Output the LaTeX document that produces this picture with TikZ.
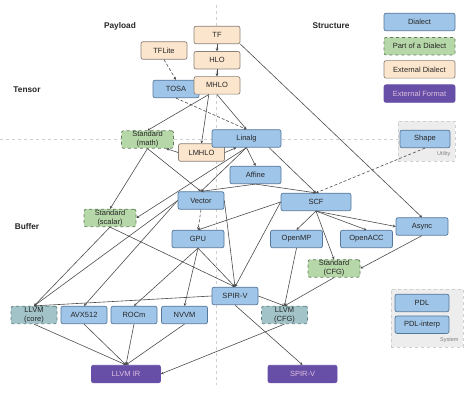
\documentclass[tikz,border=0pt]{standalone}
\usepackage{fontspec}
\setsansfont{Liberation Sans}
\usetikzlibrary{arrows.meta,positioning}
\definecolor{dialectfill}{HTML}{9FC5E8}
\definecolor{dialectline}{HTML}{56789A}
\definecolor{partfill}{HTML}{B6D7A8}
\definecolor{partline}{HTML}{5E7F57}
\definecolor{extfill}{HTML}{FCE5CD}
\definecolor{extline}{HTML}{8C8076}
\definecolor{formatfill}{HTML}{674EA7}
\definecolor{coolfill}{HTML}{A2C4C9}
\definecolor{coolline}{HTML}{5F7F80}
\definecolor{guideline}{HTML}{CFCFCF}
\begin{document}
\begin{tikzpicture}[
    x=1pt, y=-1pt,
    block/.style={draw, rounded corners=2pt, line width=0.7pt, inner sep=0pt,
        minimum width=#1, minimum height=17.5pt, align=center,
        font=\fontsize{7.5}{9}\selectfont\sffamily, text=black!85},
    block/.default=46pt,
    dialect/.style={block=#1, fill=dialectfill, draw=dialectline},
    dialect/.default=46pt,
    partdialect/.style={block=#1, fill=partfill, draw=partline, dashed},
    partdialect/.default=52pt,
    coolpart/.style={block=46pt, fill=coolfill, draw=coolline, dashed},
    external/.style={block=#1, fill=extfill, draw=extline},
    external/.default=46pt,
    format/.style={block=#1, fill=formatfill, draw=formatfill, text=violet!25!white},
    format/.default=69pt,
    arrow/.style={-{Stealth[length=2.8pt,width=2.8pt]}, line width=0.6pt, black!70},
    dasharrow/.style={arrow, densely dashed},
    guide/.style={dashed, line width=0.5pt, guideline},
    heading/.style={font=\fontsize{8.3}{10}\selectfont\sffamily\bfseries, text=black!85},
    groupbox/.style={draw=guideline, dashed, fill=black!7, line width=0.6pt},
    grouplabel/.style={font=\fontsize{5.5}{6}\selectfont\sffamily, text=black!50},
    node distance=7pt
]
\useasboundingbox (0,0) rectangle (474,403);

% guides and group boxes
\coordinate (guidetop) at (216.5,5);
\coordinate (guidebottom) at (216.5,385);
\coordinate (guideleft) at (0,139);
\coordinate (guideright) at (398,139);
\draw[guide] (guidetop) -- (guidebottom);
\draw[guide] (guideleft) -- (guideright);
\node[groupbox, minimum width=57pt, minimum height=40pt, inner sep=0pt] (utilitybox) at (426.5,141) {};
\node[groupbox, minimum width=72pt, minimum height=58pt, inner sep=0pt] (systembox) at (427,318) {};
\node[grouplabel, anchor=south east] (utilitylabel) at (454,160.5) {Utility};
\node[grouplabel, anchor=south east] (systemlabel) at (462,346.5) {System};

% headings
\node[heading] (payload) at (120,26) {Payload};
\node[heading] (structure) at (331,26) {Structure};
\node[heading] (tensor) at (27,90) {Tensor};
\node[heading] (buffer) at (27,227) {Buffer};

% legend
\node[dialect=71pt] (legdialect) at (419.5,22) {Dialect};
\node[partdialect=71pt, below=6pt of legdialect] (legpart) {Part of a Dialect};
\node[external=71pt, below=5pt of legpart] (legext) {External Dialect};
\node[format=71pt, below=6pt of legext] (legformat) {External Format};

% tensor level
\node[dialect] (tosa) at (176,89) {TOSA};
\node[external] (tf) at (217,35) {TF};
\node[external, below=of tf] (hlo) {HLO};
\node[external, below=of hlo] (mhlo) {MHLO};
\node[external] (tflite) at (164,50.5) {TFLite};

% middle
\node[partdialect] (stdmath) at (147.5,139.5) {Standard\\(math)};
\node[external] (lmhlo) at (201.5,152.5) {LMHLO};
\node[dialect=69pt] (linalg) at (246.5,138.5) {Linalg};
\node[dialect=51pt] (affine) at (255.5,175) {Affine};
\node[dialect=50pt] (shape) at (425,139) {Shape};

% buffer level
\node[dialect] (vector) at (201,200.5) {Vector};
\node[dialect=70pt] (scf) at (316,202) {SCF};
\node[partdialect] (stdscalar) at (110,218) {Standard\\(scalar)};
\node[dialect=52pt] (gpu) at (198,239) {GPU};
\node[dialect=52pt] (openmp) at (296.5,239) {OpenMP};
\node[dialect=52pt] (openacc) at (366.5,239) {OpenACC};
\node[dialect=52pt] (async) at (422,226.5) {Async};
\node[partdialect] (stdcfg) at (334,268.5) {Standard\\(CFG)};
\node[dialect] (spirv) at (235,296) {SPIR-V};
\node[coolpart] (llvmcore) at (34,315) {LLVM\\(core)};
\node[dialect] (avx) at (84,315) {AVX512};
\node[dialect] (rocm) at (134,315) {ROCm};
\node[dialect] (nvvm) at (184.5,315) {NVVM};
\node[coolpart] (llvmcfg) at (284.5,315) {LLVM\\(CFG)};
\node[dialect=54pt] (pdl) at (422,303) {PDL};
\node[dialect=54pt, below=3.5pt of pdl] (pdlinterp) {PDL-interp};

% external formats
\node[format] (llvmir) at (126,374) {LLVM IR};
\node[format] (spirvout) at (302.5,374) {SPIR-V};

% solid edges
\foreach \i/\j in {tf.south/hlo.north, hlo.south/mhlo.north, tf.south east/async.north,
    mhlo.-132/stdmath.north, mhlo.-132/lmhlo.north, mhlo.south/linalg.north,
    lmhlo.east/linalg.-138, lmhlo.west/stdmath.-26, linalg.south/affine.north,
    linalg.south/vector.north, linalg.south/stdscalar.east, linalg.-22/scf.north,
    affine.south/vector.north, affine.south/scf.north, stdmath.south/vector.north,
    stdmath.south/stdscalar.north, stdscalar.south/llvmcore.north,
    stdscalar.south/spirv.north, vector.west/llvmcore.north, vector.west/avx.north,
    vector.east/spirv.north, scf.west/gpu.north, scf.west/spirv.north,
    gpu.south/rocm.north, gpu.south/nvvm.north, gpu.south/spirv.north,
    spirv.west/llvmcore.north, spirv.east/llvmcfg.north, spirv.south/spirvout.north,
    llvmcore.south/llvmir.north, avx.south/llvmir.north, rocm.south/llvmir.north,
    nvvm.south/llvmir.north, llvmcfg.south/llvmir.east, openmp.south/llvmcfg.north,
    scf.south/openmp.north, scf.south/openacc.north, scf.south/stdcfg.north,
    scf.south/async.west, stdcfg.south/llvmcfg.north, async.south/stdcfg.east}
    \draw[arrow] (\i) -- (\j);

% dashed edges
\foreach \i/\j in {tflite.south/tosa.north, tosa.south/linalg.north,
    vector.south/gpu.north, shape.south/scf.north}
    \draw[dasharrow] (\i) -- (\j);
\end{tikzpicture}
\end{document}
